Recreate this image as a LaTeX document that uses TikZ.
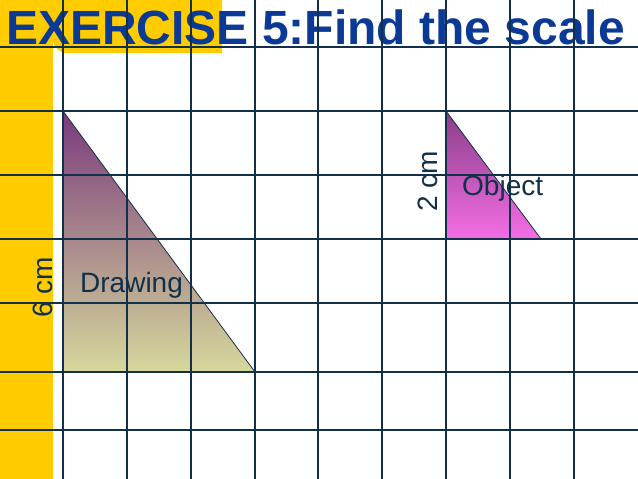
\documentclass[tikz,border=0pt]{standalone}
\usepackage{fontspec}
\setmainfont{Liberation Sans}
\usepackage{tikz}
\definecolor{slideyellow}{HTML}{FFCC00}
\definecolor{titleblue}{HTML}{0B3A96}
\definecolor{gridnavy}{HTML}{13304A}
\definecolor{drawtop}{HTML}{7A3A7C}
\definecolor{drawbot}{HTML}{D6D89C}
\definecolor{objtop}{HTML}{8A3E88}
\definecolor{objbot}{HTML}{F46EE6}

\begin{document}
\begin{tikzpicture}[x=1pt,y=-1pt]
\tikzstyle{gridline}=[gridnavy,line width=1.1pt]
\tikzstyle{label}=[inner sep=0pt,text=gridnavy,font=\fontsize{28}{28}\selectfont]
\useasboundingbox (0,0) rectangle (638,479);
% yellow frame
\fill[slideyellow] (0,0) -- (222,0) -- (222,53) -- (67,53)
    arc[start angle=90,end angle=180,radius=14] -- (53,479) -- (0,479) -- cycle;
% title
\node[anchor=base west,inner sep=0pt,text=titleblue,
    font=\fontsize{48}{48}\selectfont\bfseries] (title) at (6,45) {EXERCISE 5:Find the scale};
% triangles
\shade[top color=drawtop,bottom color=drawbot,draw=gridnavy,line width=0.8pt]
    (63,111) -- (255,372) -- (63,372) -- cycle;
\shade[top color=objtop,bottom color=objbot,draw=gridnavy,line width=0.8pt]
    (446,111) -- (541,239) -- (446,239) -- cycle;
% labels
\node[label,anchor=base west] (drawing) at (80,292) {Drawing};
\node[label,anchor=base west] (object) at (462,195) {Object};
\node[label,rotate=90] (six) at (43,287) {6 cm};
\node[label,rotate=90] (two) at (428,181) {2 cm};
% grid
\foreach \x in {63,127,191,255,318,382,446,510,574}
    \draw[gridline] (\x,0) -- (\x,479);
\foreach \y in {47,111,175,239,303,372,430}
    \draw[gridline] (0,\y) -- (638,\y);
\end{tikzpicture}
\end{document}
